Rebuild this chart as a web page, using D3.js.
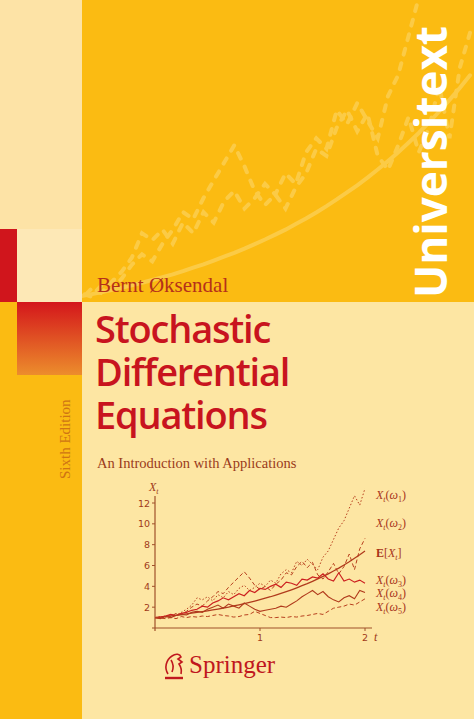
<!DOCTYPE html>
<html><head><meta charset="utf-8">
<script src="https://cdn.jsdelivr.net/npm/d3@7"></script>
<style>html,body{margin:0;padding:0;background:#fde6a3}svg{display:block}</style>
</head><body>
<svg id="c" width="474" height="719"></svg>
<script>
const tVals = d3.range(41).map(i => i * 0.05);
const meanX = [1,1.05,1.11,1.16,1.22,1.28,1.35,1.42,1.49,1.57,1.65,1.73,1.82,1.92,2.01,2.12,2.23,2.34,2.46,2.59,2.72,2.86,3.0,3.16,3.32,3.49,3.67,3.86,4.06,4.26,4.48,4.71,4.95,5.2,5.47,5.75,6.05,6.36,6.69,7.03,7.39];
const w1 = [1,1.1,1.0,1.3,1.2,1.5,1.8,2.2,2.9,2.7,3.0,2.6,3.2,2.9,3.5,3.2,3.8,4.1,3.6,3.9,4.3,4.0,4.6,4.3,5.2,5.6,5.3,6.4,6.0,6.6,6.1,5.6,6.8,7.4,8.5,9.6,10.3,11.5,12.7,11.8,13.4];
const w2 = [1,0.9,1.2,1.1,1.4,1.3,1.6,2.0,2.3,2.1,2.6,3.0,3.5,3.3,3.9,4.4,4.9,5.4,4.8,4.1,3.7,4.0,3.6,4.2,4.6,5.3,5.1,5.9,6.4,5.8,6.3,5.1,4.7,5.4,6.2,5.2,5.9,7.1,5.6,7.6,8.6];
const w3 = [1,1.05,1.15,1.3,1.2,1.4,1.5,1.7,1.8,2.1,2.0,2.4,2.6,2.9,2.7,3.0,3.3,3.1,3.6,3.4,3.8,3.7,4.0,4.2,3.9,4.4,4.3,4.1,4.7,4.6,4.9,4.8,5.2,4.7,4.5,5.3,4.5,4.7,4.4,4.6,4.3];
const w4 = [1,0.9,1.1,1.0,1.2,1.3,1.25,1.5,1.6,1.5,1.8,2.0,2.2,1.9,2.3,2.1,1.9,2.4,2.1,1.8,1.6,1.7,1.8,1.9,2.1,2.0,2.3,2.6,3.0,3.3,3.6,3.2,3.5,3.0,2.7,2.5,2.9,3.1,2.8,3.6,3.4];
const w5 = [1,0.95,0.9,1.0,0.9,1.1,1.0,1.1,1.05,1.15,1.1,1.2,1.3,1.2,1.15,1.05,1.1,1.25,1.3,1.6,1.4,1.2,1.0,1.0,1.05,1.0,1.1,1.05,1.15,1.2,1.3,1.4,1.3,1.6,1.9,2.0,2.1,2.3,2.2,2.5,2.8];
const yTicks = [2,4,6,8,10,12];
const xTicks = [1,2];
const legendLabels = [["ω","1"],["ω","2"],["E"],["ω","3"],["ω","4"],["ω","5"]];
const series = [
  {v:w1, dash:"1.5,2", w:1, c:"#b8401e"},
  {v:w2, dash:"4,2.5", w:1, c:"#b8401e"},
  {v:meanX, dash:null, w:1.3, c:"#b03a1c"},
  {v:w3, dash:null, w:1.2, c:"#cc2020"},
  {v:w4, dash:null, w:1.1, c:"#b03a1c"},
  {v:w5, dash:"4,2.5", w:1, c:"#b8401e"}
];

const svg = d3.select("#c");
svg.append("rect").attr("x",0).attr("y",0).attr("width",474).attr("height",719).attr("fill","#fde6a3");
svg.append("rect").attr("x",82).attr("y",0).attr("width",392).attr("height",302).attr("fill","#fbbb12");
svg.append("rect").attr("x",0).attr("y",0).attr("width",82).attr("height",229).attr("fill","#fde3a6");
svg.append("rect").attr("x",0).attr("y",302).attr("width",82).attr("height",417).attr("fill","#fbbb12");
svg.append("rect").attr("x",0).attr("y",229).attr("width",17).attr("height",73).attr("fill","#d0151c");
svg.append("rect").attr("x",17).attr("y",229).attr("width",65).attr("height",73).attr("fill","#fde8b6");
const g = svg.append("defs").append("linearGradient").attr("id","gr").attr("x1",0).attr("y1",0).attr("x2",0).attr("y2",1);
g.append("stop").attr("offset","0").attr("stop-color","#d4161b");
g.append("stop").attr("offset","1").attr("stop-color","#ec8d2c");
svg.append("rect").attr("x",17).attr("y",302).attr("width",65).attr("height",73).attr("fill","url(#gr)");

// faint background decoration
svg.append("clipPath").attr("id","cl").append("rect").attr("x",82).attr("y",0).attr("width",392).attr("height",302);
const bx = d3.scaleLinear().domain([0,2]).range([60,470]);
const by = d3.scaleLinear().domain([1,13]).range([300,-122]);
const bg = svg.append("g").attr("clip-path","url(#cl)").attr("opacity",0.35);
[[w1,"6,9"],[w2,"6,9"],[meanX,null]].forEach(([v,d]) => {
  bg.append("path").attr("d", d3.line().x((_,i)=>bx(tVals[i])).y(y=>by(y))(v))
    .attr("fill","none").attr("stroke","#fde9a8").attr("stroke-width",4)
    .attr("stroke-linecap","round").attr("stroke-dasharray",d);
});

svg.append("text").attr("transform","translate(447,298) rotate(-90)")
  .attr("font-family","Open Sans").attr("font-weight",700).attr("font-size",44)
  .attr("fill","#fff").attr("textLength",272).attr("lengthAdjust","spacingAndGlyphs").text("Universitext");

svg.append("text").attr("x",97).attr("y",292).attr("font-family","Liberation Serif")
  .attr("font-size",21).attr("fill","#b5301a").text("Bernt Øksendal");

["Stochastic","Differential","Equations"].forEach((t,i)=>{
  svg.append("text").attr("x",95).attr("y",343+i*43).attr("font-family","Open Sans")
    .attr("font-weight",600).attr("font-size",38).attr("fill","#c8141e")
    .attr("letter-spacing",-1.2).text(t);
});
svg.append("text").attr("x",97).attr("y",468).attr("font-family","Liberation Serif")
  .attr("font-size",14.5).attr("fill","#9a3a1a").text("An Introduction with Applications");

svg.append("text").attr("transform","translate(70,479) rotate(-90)").attr("font-family","Liberation Serif")
  .attr("font-size",15).attr("fill","#cf7414").text("Sixth Edition");

const x = d3.scaleLinear().domain([0,2]).range([155,365]);
const y = d3.scaleLinear().domain([0,12]).range([628,503]);
const axC = "#a0502a";
const ch = svg.append("g");
ch.append("line").attr("x1",152).attr("x2",372).attr("y1",y(0)).attr("y2",y(0)).attr("stroke",axC).attr("stroke-width",1.2);
ch.append("line").attr("x1",x(0)).attr("x2",x(0)).attr("y1",631).attr("y2",496).attr("stroke",axC).attr("stroke-width",1.2);
yTicks.forEach(v=>{
  ch.append("line").attr("x1",x(0)-3).attr("x2",x(0)).attr("y1",y(v)).attr("y2",y(v)).attr("stroke",axC);
  ch.append("text").attr("x",x(0)-5).attr("y",y(v)+3.5).attr("text-anchor","end")
    .attr("font-family","DejaVu Sans").attr("font-size",9.5).attr("fill","#a03a1a").text(v);
});
xTicks.forEach(v=>{
  ch.append("line").attr("x1",x(v)).attr("x2",x(v)).attr("y1",y(0)).attr("y2",y(0)+3).attr("stroke",axC);
  ch.append("text").attr("x",x(v)).attr("y",y(0)+13).attr("text-anchor","middle")
    .attr("font-family","DejaVu Sans").attr("font-size",9.5).attr("fill","#a03a1a").text(v);
});
ch.append("text").attr("x",374).attr("y",y(0)+13).attr("font-family","Liberation Serif").attr("font-style","italic")
  .attr("font-size",12).attr("fill","#a03a1a").text("t");
const xt = ch.append("text").attr("x",149).attr("y",491).attr("font-family","Liberation Serif").attr("font-style","italic")
  .attr("font-size",12).attr("fill","#a03a1a");
xt.append("tspan").text("X");
xt.append("tspan").attr("font-size",8).attr("dy",3).text("t");

const line = d3.line().x((_,i)=>x(tVals[i])).y(v=>y(v));
series.forEach(s=>{
  ch.append("path").attr("d",line(s.v)).attr("fill","none").attr("stroke",s.c)
    .attr("stroke-width",s.w).attr("stroke-dasharray",s.dash);
});

const legY = [499,527,557,584,597,611];
legendLabels.forEach((l,i)=>{
  const t = ch.append("text").attr("x",376).attr("y",legY[i]).attr("font-family","Liberation Serif")
    .attr("font-size",12).attr("fill","#a8341a");
  if(l[0]==="E"){
    t.append("tspan").attr("font-weight",700).text("E");
    t.append("tspan").text("[");
    t.append("tspan").attr("font-style","italic").text("X");
    t.append("tspan").attr("font-size",8).attr("font-style","italic").attr("dy",3).text("t");
    t.append("tspan").attr("dy",-3).text("]");
  } else {
    t.append("tspan").attr("font-style","italic").text("X");
    t.append("tspan").attr("font-size",8).attr("font-style","italic").attr("dy",3).text("t");
    t.append("tspan").attr("dy",-3).text("(");
    t.append("tspan").attr("font-style","italic").text(l[0]);
    t.append("tspan").attr("font-size",8).attr("dy",3).text(l[1]);
    t.append("tspan").attr("dy",-3).text(")");
  }
});

const lg = svg.append("g").attr("transform","translate(162,652)").attr("fill","none").attr("stroke","#c0181e").attr("stroke-width",1.6);
lg.append("path").attr("d","M6,22 C2,16 4,8 10,4 C14,1 18,2 19,5 L16,7 L20,10 L17,12 C19,15 20,18 19,22");
lg.append("path").attr("d","M9,8 C11,11 12,15 10,20");
lg.append("line").attr("x1",3).attr("x2",21).attr("y1",26).attr("y2",26).attr("stroke-width",2.4);
svg.append("text").attr("x",189).attr("y",673).attr("font-family","Liberation Serif")
  .attr("font-size",25).attr("fill","#c0181e").text("Springer");
</script>
</body></html>
